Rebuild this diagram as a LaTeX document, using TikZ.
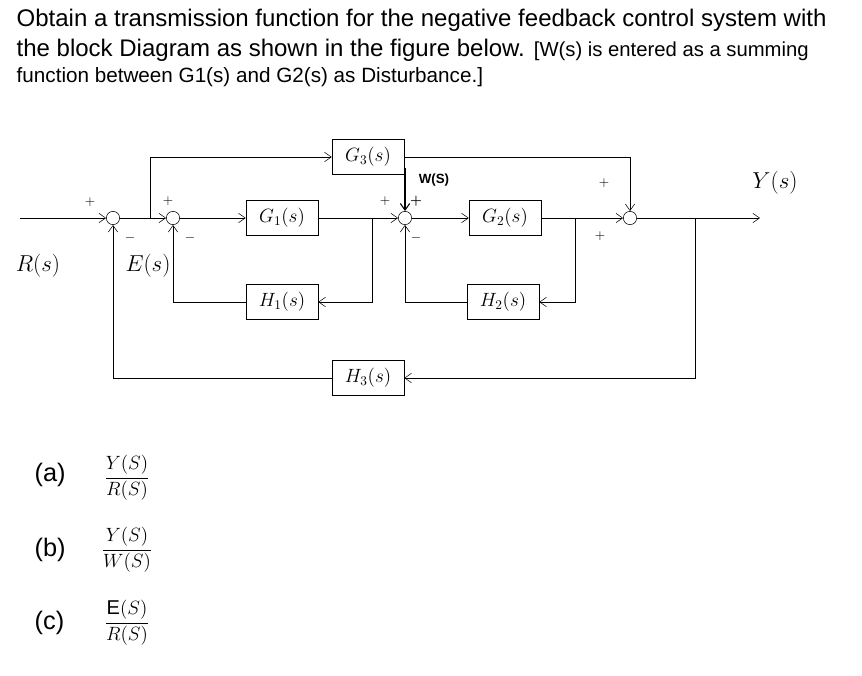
\documentclass[tikz,border=0pt]{standalone}
\usepackage{amsmath}
\usepackage{fontspec}
\setmainfont{Liberation Sans}
\newfontfamily\serif{Liberation Serif}
\usetikzlibrary{arrows.meta, positioning}

\begin{document}
\begin{tikzpicture}[x=0.75pt, y=-0.75pt,
    block/.style={rectangle, draw=black, minimum height=26pt, minimum width=54pt, font=\Large},
    sum/.style={circle, draw=black, inner sep=0pt, minimum size=10pt},
    signal/.style={-{Straight Barb[length=5pt, width=7pt]}, thin},
    sign/.style={font=\normalsize},
    question/.style={anchor=base west, font=\fontsize{18}{21}\selectfont},
    fracstyle/.style={font=\serif\itshape\fontsize{15}{18}\selectfont},
    item/.style={anchor=west, font=\fontsize{19}{22}\selectfont}
]
\useasboundingbox (0,0) rectangle (862,675);

% Question text
\node[question] (q1) at (12,26) {Obtain a transmission function for the negative feedback control system with};
\node[question] (q2) at (12,56) {the block Diagram as shown in the figure below. {\fontsize{15.2}{18}\selectfont [W(s) is entered as a summing}};
\node[question, font=\fontsize{15.5}{18}\selectfont] (q3) at (12,82) {function between G1(s) and G2(s) as Disturbance.]};

% Blocks
\node[block] (g3) at (368,157) {$G_3(s)$};
\node[block] (g1) at (282,218) {$G_1(s)$};
\node[block] (g2) at (505,218) {$G_2(s)$};
\node[block] (h1) at (282,302) {$H_1(s)$};
\node[block] (h2) at (503,302) {$H_2(s)$};
\node[block] (h3) at (368,378) {$H_3(s)$};

% Summing points
\node[sum] (s1) at (113,218) {};
\node[sum] (s2) at (173,218) {};
\node[sum] (s3) at (405,218) {};
\node[sum] (s4) at (630,218) {};

% Free ends and branch points
\coordinate (rin) at (20,218);
\coordinate (yout) at (760,218);
\coordinate (b1) at (150,218);
\coordinate (b2) at (372,218);
\coordinate (b3) at (575,218);
\coordinate (b4) at (695,218);
\coordinate (win) at (405,168);

% Labels
\node (rlabel) at (38,266) {\LARGE $R(s)$};
\node (elabel) at (148,266) {\LARGE $E(s)$};
\node (ylabel) at (775,183) {\LARGE $Y(s)$};
\node[font=\bfseries] (wlabel) at (434,180) {W(S)};
\node[sign] at (90,202) {$+$};
\node[sign] at (130,238) {$-$};
\node[sign] at (168,201) {$+$};
\node[sign] at (190,238) {$-$};
\node[sign] at (385,201) {$+$};
\node[sign] at (416,201) {$\boldsymbol{+}$};
\node[sign] at (416,238) {$-$};
\node[sign] at (604,183) {$+$};
\node[sign] at (600,236) {$+$};

% Forward path
\draw[signal] (rin) -- (s1);
\draw[signal] (s1) -- (s2);
\draw[signal] (s2) -- (g1);
\draw[signal] (g1) -- (s3);
\draw[signal] (s3) -- (g2);
\draw[signal] (g2) -- (s4);
\draw[signal] (s4) -- (yout);
\draw[signal, thick] (win) -- (s3);

% Feed-forward through G3
\draw[signal] (b1) |- (g3);
\draw[signal] (g3) -| (s4);

% Feedback loops
\draw[signal] (b2) |- (h1);
\draw[signal] (h1) -| (s2);
\draw[signal] (b3) |- (h2);
\draw[signal] (h2) -| (s3);
\draw[signal] (b4) |- (h3);
\draw[signal] (h3) -| (s1);

% Answers
\node[item] (a) at (30,475) {(a)};
\node[fracstyle] (fa) at (127,478) {$\dfrac{Y(S)}{R(S)}$};
\node[item] (b) at (30,550) {(b)};
\node[fracstyle] (fb) at (127,550) {$\dfrac{Y(S)}{W(S)}$};
\node[item] (c) at (30,623) {(c)};
\node[fracstyle] (fc) at (127,623) {$\dfrac{\mathrm{E}(S)}{R(S)}$};
\end{tikzpicture}
\end{document}
